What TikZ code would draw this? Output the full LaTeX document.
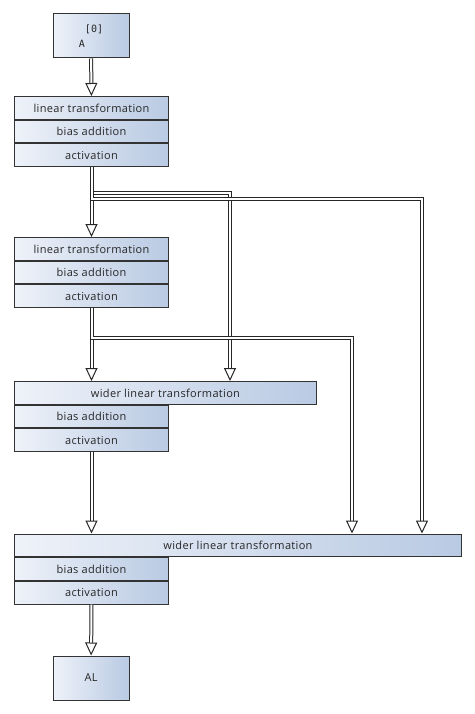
\documentclass[tikz,border=0pt]{standalone}
\usepackage{fontspec}
\setmainfont{Open Sans}[LetterSpace=3]
\setmonofont{DejaVu Sans Mono}
\usetikzlibrary{positioning,arrows.meta}
\definecolor{boxlight}{HTML}{EEF2F9}
\definecolor{boxdark}{HTML}{B9CAE3}
\definecolor{edge}{HTML}{333333}
\tikzset{
  layer/.style={rectangle,draw=edge,line width=1pt,left color=boxlight,right color=boxdark,
    minimum height=22.7pt,inner sep=0pt,text=black!85,font=\fontsize{11}{13}\selectfont},
  narrow/.style={layer,minimum width=154pt},
  term/.style={layer,minimum width=76pt,minimum height=44pt},
  conn/.style={draw=black!85,line width=1pt,double,double distance=2pt,
    -{Triangle[open,length=13pt,width=12pt,line width=1pt]}}
}
\begin{document}
\begin{tikzpicture}[x=1pt,y=-1pt]
  \useasboundingbox[fill=white] (0,0) rectangle (474,714);
  % input and output
  \node[term,align=left,font=\ttfamily\fontsize{10}{15}\selectfont] (A) at (91,36) {\ [0]\\A};
  \node[term] (AL) at (91,678) {AL};
  % first block
  \node[narrow,anchor=north west] (lt1) at (14,96) {linear transformation};
  \node[narrow,below=0pt of lt1] (ba1) {bias addition};
  \node[narrow,below=0pt of ba1] (ac1) {activation};
  % second block
  \node[narrow,anchor=north west] (lt2) at (14,237) {linear transformation};
  \node[narrow,below=0pt of lt2] (ba2) {bias addition};
  \node[narrow,below=0pt of ba2] (ac2) {activation};
  % third block, wider first row
  \node[layer,minimum width=302pt,anchor=north west] (lt3) at (14,381) {wider linear transformation};
  \node[narrow,below=0pt of lt3.south west,anchor=north west] (ba3) {bias addition};
  \node[narrow,below=0pt of ba3] (ac3) {activation};
  % fourth block
  \node[layer,minimum width=447pt,anchor=north west] (lt4) at (14,533.5) {wider linear transformation};
  \node[narrow,below=0pt of lt4.south west,anchor=north west] (ba4) {bias addition};
  \node[narrow,below=0pt of ba4] (ac4) {activation};
  % bends of the skip connections
  \coordinate (k1) at (230,193);
  \coordinate (k2) at (422,199);
  \coordinate (k3) at (352,338);
  \draw[conn] (A) -- (lt1);
  \draw[conn] (ac1) -- (lt2);
  \draw[conn] (ac1.south) |- (k1) -- (k1 |- lt3.north);
  \draw[conn] (ac1.south) |- (k2) -- (k2 |- lt4.north);
  \draw[conn] (ac2.south) -- (ac2.south |- lt3.north);
  \draw[conn] (ac2.south) |- (k3) -- (k3 |- lt4.north);
  \draw[conn] (ac3.south) -- (ac3.south |- lt4.north);
  \draw[conn] (ac4) -- (AL);
\end{tikzpicture}
\end{document}
